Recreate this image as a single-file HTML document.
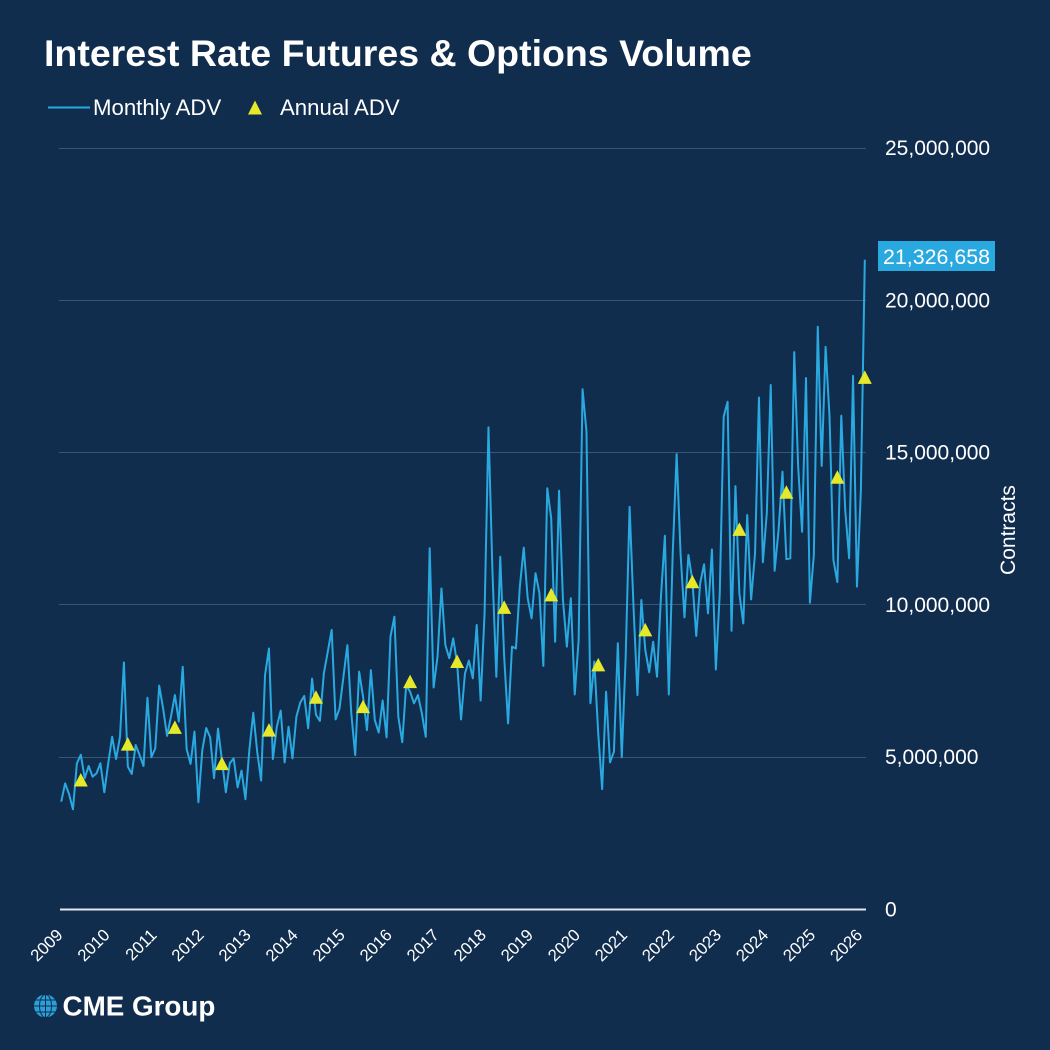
<!DOCTYPE html>
<html lang="en">
<head>
<meta charset="utf-8">
<title>Interest Rate Futures &amp; Options Volume</title>
<style>
html,body{margin:0;padding:0;background:#112d4e;}
svg{display:block;font-family:"Liberation Sans",sans-serif;}
</style>
</head>
<body>
<svg id="chart" width="1050" height="1050" viewBox="0 0 1050 1050" xmlns="http://www.w3.org/2000/svg">
  <rect width="1050" height="1050" fill="#112d4e"/>
  <text x="44" y="66" font-size="37.5" font-weight="700" fill="#fff">Interest Rate Futures &amp; Options Volume</text>
  <g>
    <line x1="48" y1="107.5" x2="90" y2="107.5" stroke="#29a9e0" stroke-width="2"/>
    <text x="93" y="115" font-size="22.2" fill="#fff">Monthly ADV</text>
    <polygon points="255,100.5 262,114.5 248,114.5" fill="#e6e82a"/>
    <text x="280" y="115" font-size="22.2" fill="#fff">Annual ADV</text>
  </g>
  <g id="grid"></g>
  <g id="y-labels"></g>
  <g id="x-labels"></g>
  <g id="series"></g>
  <text transform="translate(1015,530) rotate(-90)" text-anchor="middle" font-size="21" fill="#fff">Contracts</text>
  <rect id="last-box" x="878" y="241" width="117" height="30" fill="#29a9e0"/>
  <text id="last-text" x="883" y="264" font-size="21.4" fill="#fff"></text>
  <g>
    <g fill="none">
      <circle cx="45.5" cy="1006" r="11.5" fill="#29a0d8"/>
      <g stroke="#112d4e" stroke-width="1">
        <ellipse cx="45.5" cy="1006" rx="6" ry="11.5"/>
        <line x1="45.5" y1="994.5" x2="45.5" y2="1017.5"/>
        <line x1="34" y1="1006" x2="57" y2="1006"/>
        <line x1="35.5" y1="1000" x2="55.5" y2="1000"/>
        <line x1="35.5" y1="1012" x2="55.5" y2="1012"/>
      </g>
    </g>
    <text x="62.5" y="1015.5" font-size="27.8" font-weight="700" fill="#fff">CME Group</text>
  </g>
</svg>
<script>
const years = [2009,2010,2011,2012,2013,2014,2015,2016,2017,2018,2019,2020,2021,2022,2023,2024,2025,2026];
const yTicks = [0,5000000,10000000,15000000,20000000,25000000];
const monthlyAdvMillions = [
3.54,4.14,3.79,3.29,4.80,5.08,4.31,4.71,4.36,4.47,4.80,3.85,
4.80,5.67,4.94,5.67,8.11,4.69,4.45,5.40,5.07,4.71,6.95,5.00,
5.29,7.35,6.60,5.70,6.33,7.04,6.17,7.97,5.27,4.78,5.84,3.52,
5.24,5.96,5.65,4.31,5.94,4.91,3.85,4.80,4.96,4.01,4.56,3.62,
5.24,6.46,5.18,4.23,7.70,8.57,4.94,6.00,6.53,4.83,6.00,4.96,
6.33,6.80,7.01,5.95,7.58,6.39,6.19,7.75,8.46,9.18,6.24,6.60,
7.64,8.68,6.44,5.07,7.81,6.99,5.89,7.86,6.22,5.81,6.86,5.65,
8.96,9.61,6.33,5.49,7.37,7.15,6.77,7.04,6.44,5.67,11.86,7.29,
8.30,10.54,8.68,8.25,8.90,8.08,6.24,7.75,8.17,7.59,9.34,6.86,
9.72,15.83,11.15,7.64,11.58,8.30,6.11,8.63,8.57,10.60,11.88,10.22,
9.56,11.04,10.38,8.00,13.83,12.84,8.79,13.75,10.16,8.63,10.22,7.06,
8.85,17.08,15.69,6.77,8.14,5.78,3.95,7.15,4.83,5.18,8.74,5.00,
8.30,13.22,9.94,7.04,10.16,8.52,7.79,8.79,7.64,10.27,12.27,7.06,
11.69,14.95,11.69,9.59,11.64,10.82,8.98,10.71,11.33,9.72,11.82,7.88,
10.38,16.18,16.67,9.15,13.90,10.38,9.39,12.95,10.18,11.69,16.81,11.40,
13.01,17.22,11.12,12.46,14.37,11.50,11.53,18.30,14.54,12.40,17.45,10.07,
11.64,19.13,14.56,18.47,16.18,11.47,10.75,16.21,13.12,11.53,17.52,10.60,
13.77,21.33
];
const annualMonthIndex = [5,17,29,41,53,65,77,89,101,113,125,137,149,161,173,185,198,205];
const annualAdvMillions = [4.25,5.43,5.98,4.79,5.89,6.97,6.66,7.48,8.14,9.92,10.33,8.03,9.18,10.76,12.48,13.70,14.19,17.47];
const lastValue = 21326658;

const svgNS = 'http://www.w3.org/2000/svg';
const xScale = function (monthIndex) { return 61.2 + 3.92 * monthIndex; };
const yScale = function (value) { return 909.5 - value * 761.5 / 25000000; };
const fmt = function (n) { return n.toLocaleString('en-US'); };
const make = function (tag, attrs, parent) {
  const el = document.createElementNS(svgNS, tag);
  Object.keys(attrs).forEach(function (k) { el.setAttribute(k, attrs[k]); });
  parent.appendChild(el);
  return el;
};

const grid = document.getElementById('grid');
const yLabels = document.getElementById('y-labels');
yTicks.forEach(function (tick) {
  const y = Math.round(yScale(tick) - 0.5) + 0.5;
  const isBase = tick === 0;
  const line = make('line', {x1: isBase ? 60 : 59, x2: 866, y1: y, y2: y, stroke: isBase ? '#e3e8ee' : '#3a5672', 'stroke-width': isBase ? 2 : 1}, grid);
  
  
  const label = make('text', {x: 885, y: yScale(tick) + 7, 'font-size': 21, fill: '#fff'}, yLabels);
  
  
  label.textContent = fmt(tick);
});

const xLabels = document.getElementById('x-labels');
years.forEach(function (year, i) {
  const x = xScale(i * 12);
  const label = make('text', {'text-anchor': 'end', 'font-size': 16.8, fill: '#fff', transform: 'translate(' + (x + 2.5) + ',936) rotate(-45)'}, xLabels);
  
  
  label.textContent = year;
});

const series = document.getElementById('series');
const monthlyPoints = monthlyAdvMillions.map(function (v, i) {
  return xScale(i).toFixed(2) + ',' + yScale(v * 1000000).toFixed(2);
}).join(' ');
const monthlyLine = make('polyline', {points: monthlyPoints, fill: 'none', stroke: '#29a9e0', 'stroke-width': 2, 'stroke-linejoin': 'round'}, series);



annualAdvMillions.forEach(function (v, i) {
  const cx = xScale(annualMonthIndex[i]);
  const cy = yScale(v * 1000000);
  const pts = cx + ',' + (cy - 7) + ' ' + (cx + 7) + ',' + (cy + 6.5) + ' ' + (cx - 7) + ',' + (cy + 6.5);
  const marker = make('polygon', {points: pts, fill: '#e6e82a'}, series);
  
  
});

document.getElementById('last-text').textContent = fmt(lastValue);
</script>
</body>
</html>
